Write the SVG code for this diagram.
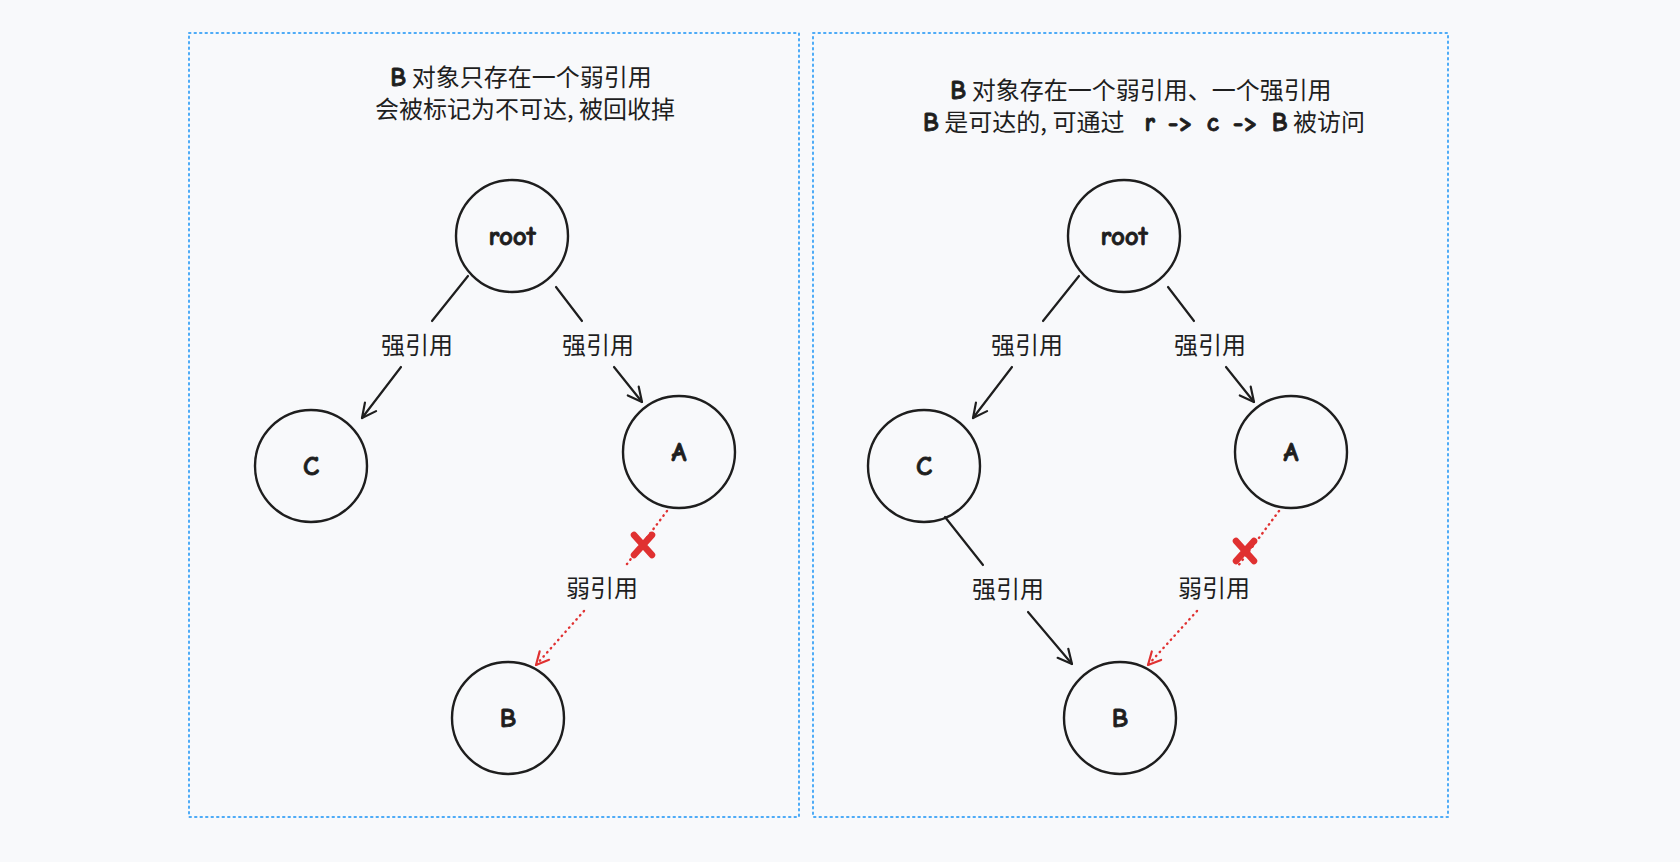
<svg xmlns="http://www.w3.org/2000/svg" width="1680" height="862" viewBox="0 0 1680 862">
<defs>
<style>
.bg{fill:#f8f9fb}
.frame{fill:none;stroke:#4dabf7;stroke-width:2;stroke-dasharray:1.5 4;stroke-linecap:round}
.node{fill:none;stroke:#1e1e1e;stroke-width:2.4}
.nt{font-family:"Comic Neue","Liberation Sans",sans-serif;font-weight:bold;font-size:27px;fill:#1e1e1e;stroke:#1e1e1e;stroke-width:0.8;text-anchor:middle}
.lbl{font-family:"Noto Sans CJK SC",sans-serif;font-size:24px;fill:#1e1e1e;text-anchor:middle}
.ttl{font-family:"Noto Sans CJK SC",sans-serif;font-size:24px;fill:#1e1e1e;text-anchor:middle}
.b{font-family:"Comic Neue","Liberation Sans",sans-serif;font-weight:bold;font-size:26px;stroke:#1e1e1e;stroke-width:0.8}
.strong{fill:none;stroke:#1e1e1e;stroke-width:2.2;stroke-linecap:round}
.weak{fill:none;stroke:#e03131;stroke-width:2.4;stroke-dasharray:0.5 5;stroke-linecap:round}
.x{fill:none;stroke:#e03131;stroke-width:6.5;stroke-linecap:round}
</style>
<marker id="ah" viewBox="0 0 20 20" refX="18" refY="10" markerWidth="20" markerHeight="20" markerUnits="userSpaceOnUse" orient="auto">
<path d="M4,3 L18,10 L4,17" fill="none" stroke="#1e1e1e" stroke-width="2.2" stroke-linecap="round" stroke-linejoin="round"/>
</marker>
<marker id="ahr" viewBox="0 0 20 20" refX="18" refY="10" markerWidth="18" markerHeight="18" markerUnits="userSpaceOnUse" orient="auto">
<path d="M4,3 L18,10 L4,17" fill="none" stroke="#e03131" stroke-width="2.4" stroke-linecap="round" stroke-linejoin="round"/>
</marker>
</defs>
<rect class="bg" x="0" y="0" width="1680" height="862"/>
<g id="frames">
<rect class="frame" x="189" y="33" width="610" height="784"/>
<rect class="frame" x="813" y="33" width="635" height="784"/>
</g>
<g id="titles">
<text class="ttl" x="521" y="86"><tspan class="b">B</tspan> 对象只存在一个弱引用</text>
<text class="ttl" x="525" y="118">会被标记为不可达, 被回收掉</text>
<text class="ttl" x="1141" y="99"><tspan class="b">B</tspan> 对象存在一个弱引用、一个强引用</text>
<text class="ttl" x="1144" y="131"><tspan class="b">B</tspan> 是可达的, 可通过<tspan class="b" dx="20">r</tspan><tspan class="b" dx="14">-&gt;</tspan><tspan class="b" dx="14">c</tspan><tspan class="b" dx="14">-&gt;</tspan><tspan class="b" dx="14">B</tspan> 被访问</text>
</g>
<g id="connectors">
<path class="strong" d="M468,276 L432,321"/>
<path class="strong" d="M401,367 L362,418" marker-end="url(#ah)"/>
<path class="strong" d="M556,287 L582,321"/>
<path class="strong" d="M614,367 L642,402" marker-end="url(#ah)"/>
<path class="weak" d="M667,511 L624,568"/>
<path class="weak" d="M584,611 L536,665" marker-end="url(#ahr)"/>
<path class="strong" d="M1079,276 L1043,321"/>
<path class="strong" d="M1012,367 L973,418" marker-end="url(#ah)"/>
<path class="strong" d="M1168,287 L1194,321"/>
<path class="strong" d="M1226,367 L1254,402" marker-end="url(#ah)"/>
<path class="strong" d="M945,517 L983,565"/>
<path class="strong" d="M1028,612 L1072,664" marker-end="url(#ah)"/>
<path class="weak" d="M1279,511 L1238,566"/>
<path class="weak" d="M1197,611 L1148,665" marker-end="url(#ahr)"/>
<text class="lbl" x="417" y="354">强引用</text>
<text class="lbl" x="598" y="354">强引用</text>
<text class="lbl" x="602" y="597">弱引用</text>
<text class="lbl" x="1027" y="354">强引用</text>
<text class="lbl" x="1210" y="354">强引用</text>
<text class="lbl" x="1008" y="598">强引用</text>
<text class="lbl" x="1214" y="597">弱引用</text>
<path class="x" d="M634,535 L652,555 M652,535 L634,555"/>
<path class="x" d="M1236,541 L1254,561 M1254,541 L1236,561"/>
</g>
<g id="n-root-l"><circle class="node" cx="512" cy="236" r="56"/><text class="nt" x="512" y="245">root</text></g>
<g id="n-c-l"><circle class="node" cx="311" cy="466" r="56"/><text class="nt" x="311" y="475">C</text></g>
<g id="n-a-l"><circle class="node" cx="679" cy="452" r="56"/><text class="nt" x="679" y="461">A</text></g>
<g id="n-b-l"><circle class="node" cx="508" cy="718" r="56"/><text class="nt" x="508" y="727">B</text></g>
<g id="n-root-r"><circle class="node" cx="1124" cy="236" r="56"/><text class="nt" x="1124" y="245">root</text></g>
<g id="n-c-r"><circle class="node" cx="924" cy="466" r="56"/><text class="nt" x="924" y="475">C</text></g>
<g id="n-a-r"><circle class="node" cx="1291" cy="452" r="56"/><text class="nt" x="1291" y="461">A</text></g>
<g id="n-b-r"><circle class="node" cx="1120" cy="718" r="56"/><text class="nt" x="1120" y="727">B</text></g>
</svg>
